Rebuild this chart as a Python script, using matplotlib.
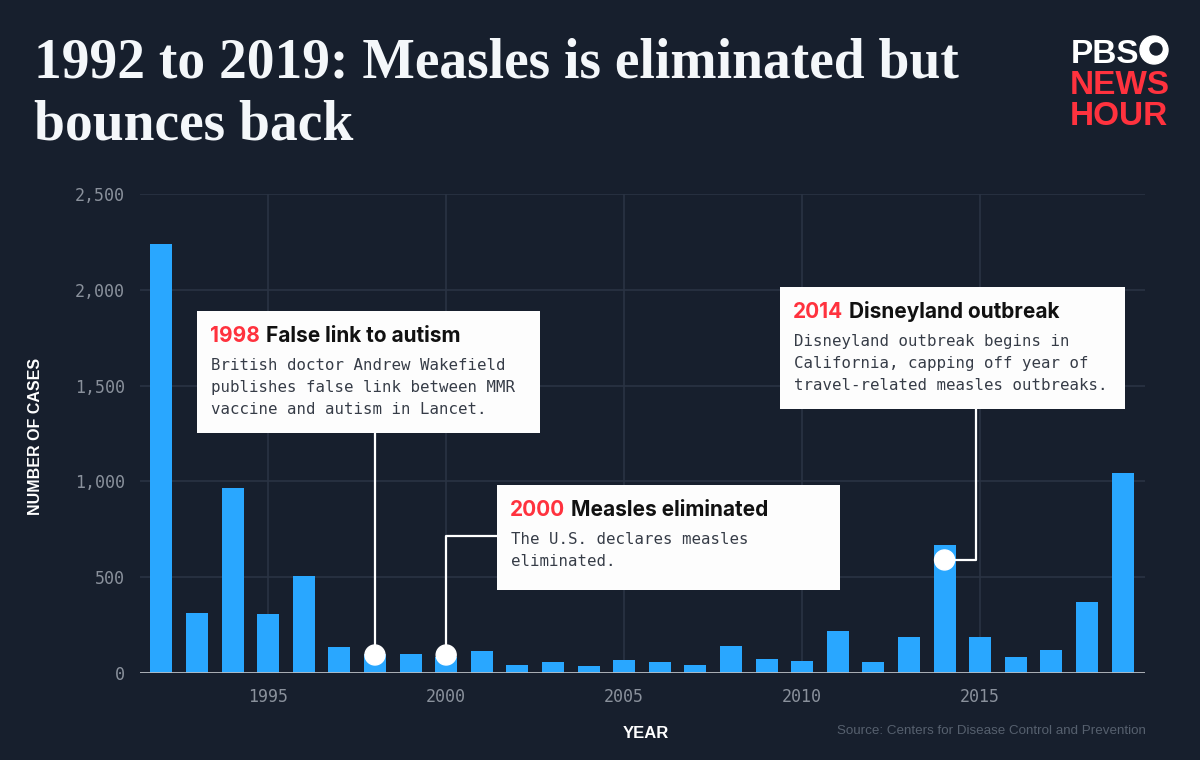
import matplotlib.pyplot as plt
from matplotlib.patches import Rectangle, Ellipse
from matplotlib.lines import Line2D

# data (CDC reported measles cases)
years = list(range(1992, 2020))
cases = [2237, 312, 963, 309, 508, 138, 100, 100, 86, 116, 44, 56, 37, 66,
         55, 43, 140, 71, 63, 220, 55, 187, 667, 188, 86, 120, 372, 1043]

ytick_vals = [0, 500, 1000, 1500, 2000, 2500]
ytick_labels = ["0", "500", "1,000", "1,500", "2,000", "2,500"]
xtick_vals = [1995, 2000, 2005, 2010, 2015]

note_years = [1998, 2000, 2014]
note_dot_vals = [94, 94, 590]
note_titles = ["False link to autism", "Measles eliminated", "Disneyland outbreak"]
note_bodies = [
    ["British doctor Andrew Wakefield", "publishes false link between MMR",
     "vaccine and autism in Lancet."],
    ["The U.S. declares measles", "eliminated."],
    ["Disneyland outbreak begins in", "California, capping off year of",
     "travel-related measles outbreaks."],
]

BG = "#171f2d"
BAR = "#29a7ff"
GRID = "#2a3343"
RED = "#ff323e"
W, H = 1200, 760


def px(x, y):
    # pixel position (from top-left) -> figure fraction
    return x / W, 1 - y / H


def dot(x, y, r, **kw):
    # round dot in pixel coords drawn on the figure
    fig.add_artist(Ellipse(px(x, y), 2 * r / W, 2 * r / H,
                           transform=fig.transFigure, **kw))


fig = plt.figure(figsize=(12, 7.6), dpi=100, facecolor=BG)
ax = fig.add_axes([140 / W, 87 / H, 1005 / W, 479 / H])
ax.set_facecolor(BG)

ax.bar(years, cases, width=0.62, color=BAR, zorder=3)

ax.set_xlim(1991.4, 2019.63)
ax.set_ylim(0, 2500)
ax.set_yticks(ytick_vals)
ax.set_yticklabels(ytick_labels)
ax.set_xticks(xtick_vals)
ax.set_xticklabels([str(v) for v in xtick_vals])
ax.grid(True, color=GRID, linewidth=1.2, zorder=0)
ax.tick_params(length=0, colors="#8a919c", labelsize=12, pad=11)
for lab in ax.get_xticklabels() + ax.get_yticklabels():
    lab.set_family("DejaVu Sans Mono")
for s in ax.spines.values():
    s.set_visible(False)
ax.axhline(0, color="#b8bcc2", linewidth=2, zorder=4)

# title and logo
fig.text(*px(34, 78), "1992 to 2019: Measles is eliminated but",
         color="#f4f7fa", fontsize=40, fontweight="bold", family="Liberation Serif",
         va="baseline")
fig.text(*px(34, 140), "bounces back",
         color="#f4f7fa", fontsize=40, fontweight="bold", family="Liberation Serif",
         va="baseline")
logo_font = dict(fontsize=24, fontweight="bold", family="Liberation Sans", va="baseline")
fig.text(*px(1071, 63), "PBS", color="white", **logo_font)
dot(1154, 50, 14, color="white")
dot(1156, 49, 6, color=BG)
fig.text(*px(1070, 94), "NEWS", color=RED, **logo_font)
fig.text(*px(1070, 125), "HOUR", color=RED, **logo_font)

# axis labels and source
fig.text(*px(36, 436), "NUMBER OF CASES", color="white", fontsize=11.5,
         fontweight="bold", family="Liberation Sans", rotation=90,
         ha="center", va="center")
fig.text(*px(646, 733), "YEAR", color="white", fontsize=12, fontweight="bold",
         family="Liberation Sans", ha="center", va="center")
fig.text(*px(1146, 731), "Source: Centers for Disease Control and Prevention",
         color="#56606e", fontsize=9.6, family="Liberation Sans", ha="right", va="center")

# annotation boxes: (left, top, right, bottom) in pixels
boxes = [(197, 311, 540, 433), (497, 485, 840, 590), (780, 287, 1125, 409)]


def data_px(x, y):
    dx, dy = ax.transData.transform((x, y))
    return dx, H - dy


fig.canvas.draw()
for i, yr in enumerate(note_years):
    l, t, r, b = boxes[i]
    dx, dy = data_px(yr, note_dot_vals[i])
    if i == 0:
        pts = [(dx, dy), (dx, b)]
    elif i == 1:
        pts = [(dx, dy), (dx, 536), (l, 536)]
    else:
        pts = [(dx, dy), (976, dy), (976, b)]
    xs = [p[0] / W for p in pts]
    ys = [1 - p[1] / H for p in pts]
    fig.add_artist(Line2D(xs, ys, transform=fig.transFigure, color="white",
                          linewidth=1.6, zorder=5))
    dot(dx, dy, 10, color="white", zorder=6)
    fig.add_artist(Rectangle(px(l, b), (r - l) / W, (b - t) / H,
                             transform=fig.transFigure, facecolor="#fdfdfd",
                             edgecolor="none", zorder=7))
    yr_txt = fig.text(*px(l + 13, t + 31), str(yr), color=RED, fontsize=15,
                      fontweight="bold", family="Inter", va="baseline", zorder=8)
    fig.canvas.draw()
    bb = yr_txt.get_window_extent()
    fig.text(bb.x1 / W + 6 / W, 1 - (t + 31) / H, note_titles[i], color="#111111",
             fontsize=15, fontweight="bold", family="Inter", va="baseline", zorder=8)
    for k, line in enumerate(note_bodies[i]):
        fig.text(*px(l + 14, t + 59 + 22 * k), line, color="#363c47", fontsize=11.3,
                 family="DejaVu Sans Mono", va="baseline", zorder=8)

fig.savefig("out.png", dpi=100, facecolor=BG)
